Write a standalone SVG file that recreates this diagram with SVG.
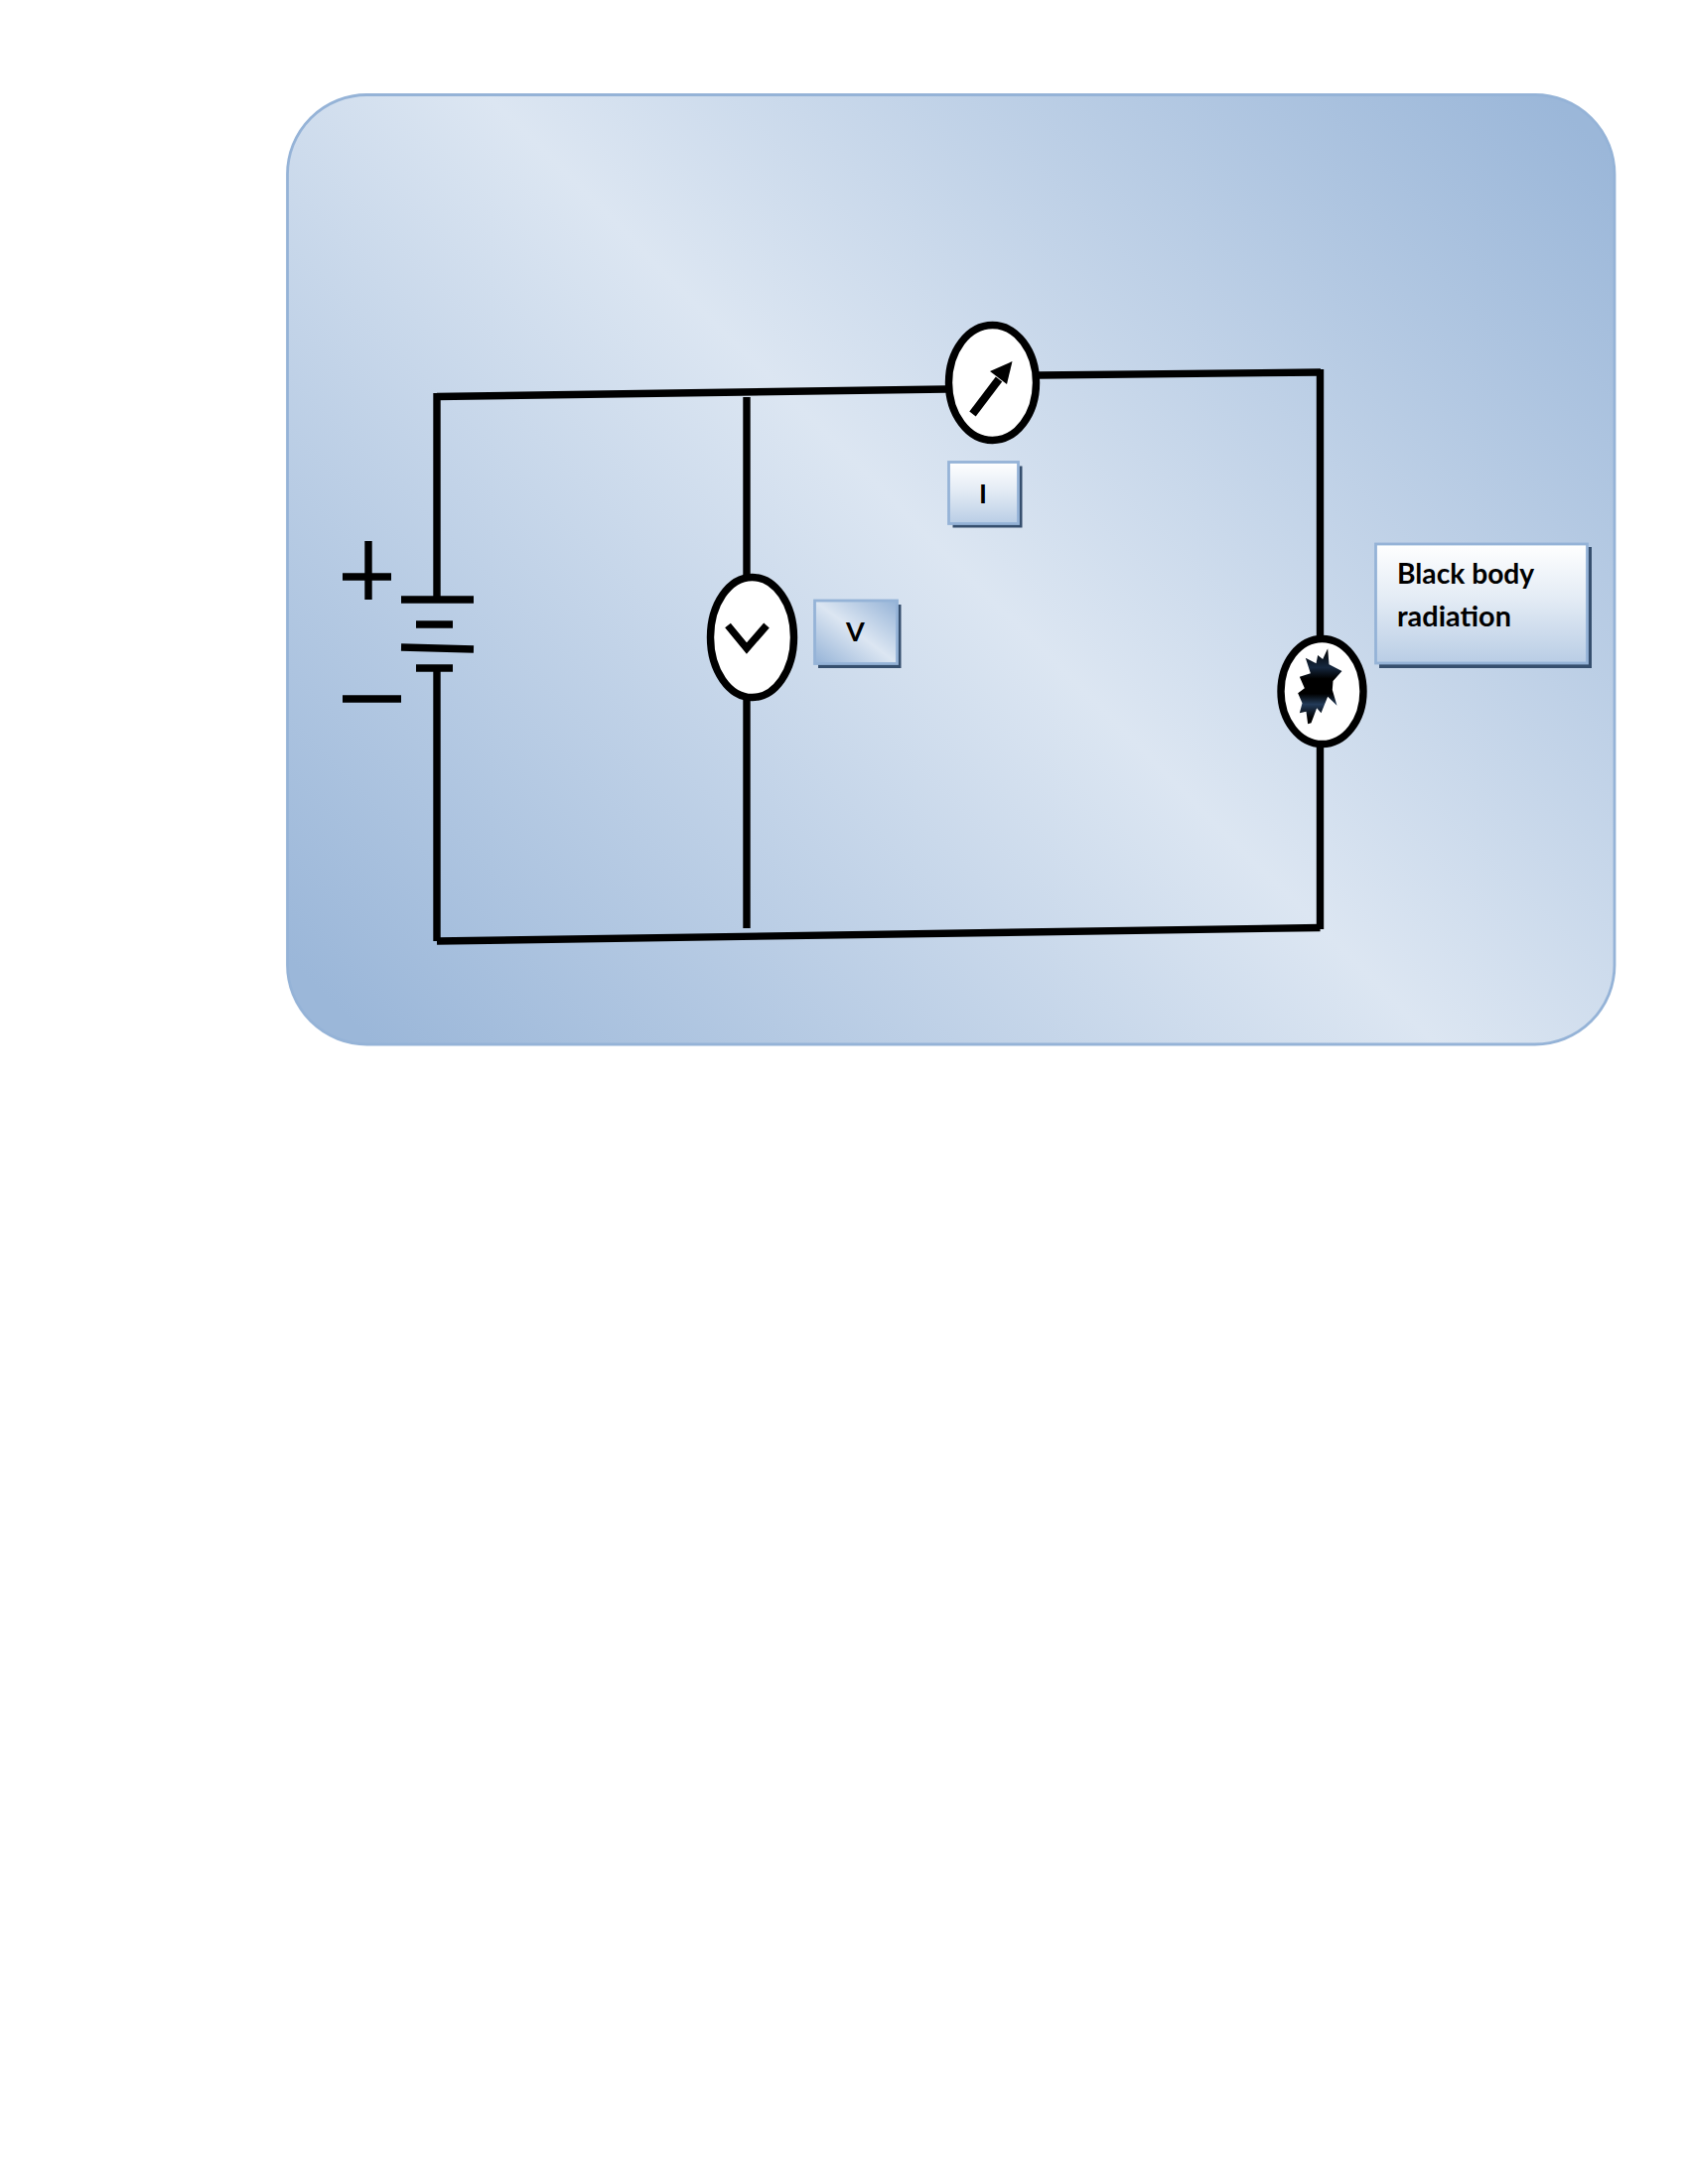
<svg xmlns="http://www.w3.org/2000/svg" width="1700" height="2200" viewBox="0 0 1700 2200">
<defs>
<linearGradient id="diag" gradientUnits="userSpaceOnUse" x1="425" y1="1100" x2="1495" y2="30"><stop offset="0" stop-color="#9bb7d9"/><stop offset="0.5" stop-color="#dce6f2"/><stop offset="1" stop-color="#9bb7d9"/></linearGradient>
<linearGradient id="diagBox" gradientUnits="objectBoundingBox" x1="0" y1="1" x2="1" y2="0"><stop offset="0" stop-color="#95b3d7"/><stop offset="0.5" stop-color="#dce6f2"/><stop offset="1" stop-color="#95b3d7"/></linearGradient>
<linearGradient id="vert" x1="0" y1="0" x2="0" y2="1"><stop offset="0" stop-color="#ffffff"/><stop offset="0.45" stop-color="#e4ecf5"/><stop offset="1" stop-color="#b9cde5"/></linearGradient>
<linearGradient id="star" x1="0" y1="0" x2="0" y2="1"><stop offset="0" stop-color="#000"/><stop offset="0.25" stop-color="#16283f"/><stop offset="0.4" stop-color="#000"/><stop offset="0.6" stop-color="#000"/><stop offset="0.74" stop-color="#233b59"/><stop offset="0.92" stop-color="#000"/></linearGradient>
</defs>
<style>
.w{fill:none;stroke:#000;stroke-width:7.4;stroke-linecap:butt;stroke-linejoin:miter}
.m{fill:#fff;stroke:#000;stroke-width:7.4}
.box{stroke:#95b3d7;stroke-width:2.8}
.sh{fill:#364f6e}
text{font-family:Lato,"Liberation Sans",sans-serif;fill:#000}
.b{font-weight:700;font-size:28.2px}
.r{font-weight:700;font-size:27px;text-anchor:middle}
</style>
<rect width="1700" height="2200" fill="#fff"/>
<rect id="panel" x="289.5" y="95.5" width="1336.5" height="956.5" rx="80" ry="80" fill="url(#diag)" stroke="#95b3d7" stroke-width="2.8"/>
<g id="connectors">
<line class="w" x1="953" y1="392" x2="440" y2="399.5"/>
<line class="w" x1="440" y1="396" x2="440" y2="604"/>
<line class="w" x1="1046" y1="378" x2="1330" y2="375"/>
<line class="w" x1="1329.5" y1="372" x2="1329.5" y2="642"/>
<line class="w" x1="1329.5" y1="750" x2="1329.5" y2="936"/>
<line class="w" x1="1329.5" y1="934.5" x2="440" y2="948"/>
<line class="w" x1="440" y1="673" x2="440" y2="948"/>
<line class="w" x1="752" y1="400" x2="752" y2="580"/>
<line class="w" x1="752" y1="704" x2="752" y2="935"/>
</g>
<g id="battery">
<line class="w" x1="404" y1="604" x2="477" y2="604"/>
<line class="w" x1="419" y1="629" x2="456" y2="629"/>
<line class="w" x1="404" y1="652" x2="477" y2="654"/>
<line class="w" x1="419" y1="673" x2="456" y2="673"/>
<line class="w" x1="371" y1="545" x2="371" y2="604"/>
<line class="w" x1="345" y1="581" x2="394" y2="581"/>
<line class="w" x1="345" y1="704" x2="404" y2="704"/>
</g>
<g id="ammeter">
<ellipse class="m" cx="999.5" cy="385.5" rx="44" ry="58"/>
<line x1="979.5" y1="417" x2="1006" y2="382" stroke="#000" stroke-width="8"/>
<polygon points="1019.5,364 997,374 1014,387" fill="#000"/>
</g>
<g id="voltmeter">
<ellipse class="m" cx="757.5" cy="642" rx="42" ry="60.5"/>
<polyline class="w" points="733,630 752,653 772,630"/>
</g>
<g id="lamp">
<ellipse class="m" cx="1331.5" cy="696.5" rx="41.5" ry="53"/>
<polygon transform="translate(1280.5 640) scale(.33333)" fill="url(#star)" points="170,40 174,88 213,108 186,138 184,165 198,212 170,185 150,235 137,220 120,265 110,268 105,230 85,235 93,205 80,175 100,160 85,125 118,115 103,68 135,85 140,60 155,72"/>
</g>
<g id="label-i">
<rect class="sh" x="959.5" y="469.5" width="70" height="62"/>
<rect class="box" x="955.5" y="465.5" width="70" height="62" fill="url(#vert)"/>
<text class="r" x="990" y="507">I</text>
</g>
<g id="label-v">
<rect class="sh" x="824" y="609" width="83.5" height="64"/>
<rect class="box" x="820.5" y="605" width="83" height="63.5" fill="url(#diagBox)"/>
<text class="r" x="861.5" y="646">V</text>
</g>
<g id="label-radiation">
<rect class="sh" x="1389" y="551" width="214" height="122"/>
<rect class="box" x="1385.5" y="548" width="213" height="120" fill="url(#vert)"/>
<text class="b" x="1407" y="588">Black body</text>
<text class="b" x="1407" y="631" textLength="115" lengthAdjust="spacingAndGlyphs">radiation</text>
</g>
</svg>
